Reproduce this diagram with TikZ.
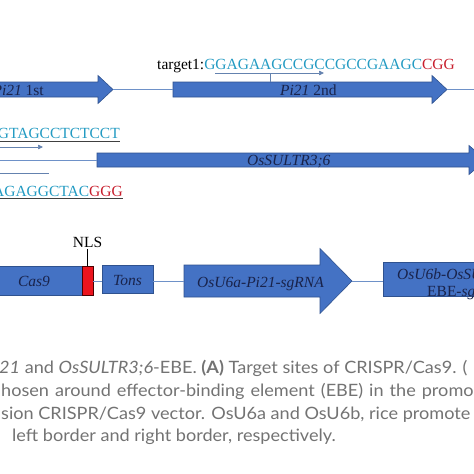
\documentclass[tikz,border=0pt]{standalone}
\usepackage{fontspec}
\setmainfont{Liberation Serif}
\newfontfamily\capfont[FakeStretch=1.065]{Lato}
\usetikzlibrary{arrows.meta}
\definecolor{geneblue}{RGB}{68,114,196}
\definecolor{geneedge}{RGB}{47,82,143}
\definecolor{linecol}{RGB}{110,145,200}
\definecolor{seqcyan}{RGB}{35,155,195}
\definecolor{seqred}{RGB}{200,30,45}
\definecolor{labelnavy}{RGB}{25,35,75}
\definecolor{capgray}{RGB}{115,115,115}
\definecolor{seqarrowcol}{RGB}{100,130,175}
\definecolor{nlsred}{RGB}{235,20,30}
\newcommand\genearrow[7]{%
  \filldraw[gene] (#2,#5-#6) -- (#3,#5-#6) -- (#3,#5-#7) -- (#4,#5) -- (#3,#5+#7) -- (#3,#5+#6) -- (#2,#5+#6) -- cycle;
  \coordinate (#1-tail) at (#2,#5);
  \coordinate (#1-tip) at (#4,#5);
}
\tikzset{
  gene/.style={fill=geneblue, draw=geneedge, line width=0.6pt},
  genebox/.style={fill=geneblue, draw=geneedge, line width=0.6pt, inner sep=0pt},
  nlsbox/.style={fill=nlsred, draw=black!70!red, line width=0.6pt, inner sep=0pt},
  conn/.style={draw=linecol, line width=0.6pt},
  seqarrow/.style={draw=seqarrowcol, line width=0.7pt, -{Triangle[length=5pt,width=4.5pt]}},
  seqline/.style={draw=seqarrowcol, line width=0.6pt},
  uline/.style={draw=black!75, line width=0.6pt},
  lbl/.style={font=\fontsize{15.5}{16}\selectfont, text=labelnavy, inner sep=0pt},
  seq/.style={font=\fontsize{15.5}{16}\selectfont, inner sep=0pt},
  captext/.style={font=\capfont\fontsize{17}{17}\selectfont, text=capgray, inner sep=0pt},
  tickline/.style={draw=black, line width=1.3pt}
}
\begin{document}
\begin{tikzpicture}[x=1pt,y=-1pt]
\useasboundingbox (0,0) rectangle (474,474);
\fill[white] (0,0) rectangle (474,474);
\clip (0,0) rectangle (474,474);

% ---- row 1: Pi21 ----
\genearrow{pia}{-10}{98}{113}{89.5}{7.5}{14}
\genearrow{pib}{173}{432}{447}{89.5}{7.5}{14}
\node[lbl, anchor=base east] (pi1lbl) at (44,95.5) {\textit{Pi21} 1st};
\node[lbl, anchor=base west] (pi2lbl) at (280,95.5) {\textit{Pi21} 2nd};
\coordinate (rend1) at (480,89.5);
\draw[conn] (pia-tip) -- (pib-tail);
\draw[conn] (pib-tip) -- (rend1);
\node[seq, anchor=base west] (t1) at (157,69) {target1:\textcolor{seqcyan}{GGAGAAGCCGCCGCCGAAGC}\textcolor{seqred}{CGG}};
\coordinate (sa1) at (215,73);
\coordinate (sa2) at (324,73);
\draw[seqarrow] (sa1) -- (sa2);
\coordinate (sv1) at (270,73);
\coordinate (sv2) at (270,82);
\draw[seqline] (sv1) -- (sv2);

% ---- row 2: OsSULTR3;6 ----
\node[seq, anchor=base east, text=seqcyan] (t2) at (120,138) {GTAGCCTCTCCT};
\draw[uline] ([yshift=-3pt]t2.base west) -- ([yshift=-3pt]t2.base east);
\coordinate (a2s) at (-5,147);
\coordinate (a2e) at (43,147);
\draw[seqarrow] (a2s) -- (a2e);
\genearrow{sul}{97}{469}{486}{160}{7}{14.5}
\coordinate (l2s) at (-5,160);
\draw[conn] (l2s) -- (sul-tail);
\node[lbl, anchor=base west] (sullbl) at (247,165.5) {\textit{OsSULTR3;6}};
\coordinate (l3s) at (-5,173);
\coordinate (l3e) at (49,173);
\draw[seqline] (l3s) -- (l3e);
\node[seq, anchor=base east] (t3) at (123,196) {\textcolor{seqcyan}{GAGAGGCTAC}\textcolor{seqred}{GGG}};
\draw[uline] ([yshift=-2.5pt]t3.base west) -- ([yshift=-2.5pt]t3.base east);

% ---- row 3: vector ----
\node[genebox, minimum width=94, minimum height=29] (cas) at (35,280.5) {};
\node[lbl, anchor=base] (caslbl) at (34,286.5) {\textit{Cas9}};
\node[nlsbox, minimum width=11, minimum height=29] (nls) at (87.5,280.5) {};
\coordinate (nlstop) at (87.5,249);
\draw[tickline] (nls.north) -- (nlstop);
\node[seq, anchor=base] (nlslbl) at (87.5,247) {NLS};
\node[genebox, minimum width=51, minimum height=28] (tons) at (127.5,279) {};
\node[lbl, anchor=base] (tonslbl) at (127.5,285.5) {\textit{Tons}};
\genearrow{u6a}{184}{320}{352}{281}{16}{32.5}
\node[lbl, anchor=base] (u6albl) at (260.5,287) {\textit{OsU6a-Pi21-sgRNA}};
\node[genebox, minimum width=117, minimum height=34, anchor=west] (u6b) at (383,279) {};
\node[lbl, anchor=base west] (u6bl1) at (397,279) {\textit{OsU6b-OsSULTR3;6-}};
\node[lbl, anchor=base west] (u6bl2) at (427,296) {EBE-\textit{sgRNA}};
\draw[conn] (nls.east |- 0,281) -- (tons.west |- 0,281);
\draw[conn] (tons.east |- u6a-tail) -- (u6a-tail);
\draw[conn] (u6a-tip) -- (u6a-tip -| u6b.west);

% ---- caption ----
\node[captext, anchor=base west] (c1) at (-1,373) {\textit{21} and \textit{OsSULTR3;6}-EBE. \textbf{(A)} Target sites of CRISPR/Cas9. (};
\node[captext, anchor=base west] (c2) at (1,396) {\spaceskip=6pt hosen around effector-binding element (EBE) in the promo};
\node[captext, anchor=base west] (c3) at (1,419) {sion CRISPR/Cas9 vector. OsU6a and OsU6b, rice promote};
\node[captext, anchor=base west] (c4) at (12,441) {left border and right border, respectively.};
\end{tikzpicture}
\end{document}
